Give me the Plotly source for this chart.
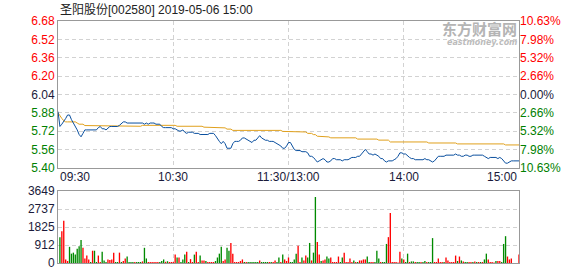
import plotly.graph_objects as go

# ---------------- data ----------------
minutes = list(range(241))  # minute index from 09:30 (0) to 15:00 (240)

price = [
    5.89, 5.76, 5.78, 5.80, 5.83, 5.86, 5.86, 5.82, 5.79, 5.77,
    5.73, 5.69, 5.67, 5.70, 5.73, 5.73, 5.73, 5.73, 5.73, 5.73,
    5.73, 5.75, 5.76, 5.74, 5.74, 5.73, 5.75, 5.76, 5.76, 5.76,
    5.76, 5.76, 5.77, 5.79, 5.80, 5.80, 5.79, 5.79, 5.79, 5.79,
    5.79, 5.79, 5.79, 5.79, 5.79, 5.78, 5.79, 5.78, 5.79, 5.79,
    5.79, 5.78, 5.78, 5.78, 5.76, 5.75, 5.75, 5.75, 5.75, 5.75,
    5.74, 5.74, 5.73, 5.72, 5.72, 5.73, 5.71, 5.70, 5.71, 5.71,
    5.71, 5.70, 5.70, 5.70, 5.69, 5.69, 5.69, 5.69, 5.69, 5.70,
    5.70, 5.70, 5.68, 5.65, 5.63, 5.61, 5.63, 5.61, 5.57, 5.57,
    5.57, 5.61, 5.63, 5.63, 5.63, 5.64, 5.66, 5.66, 5.65, 5.64,
    5.63, 5.62, 5.64, 5.64, 5.66, 5.68, 5.66, 5.65, 5.64, 5.64,
    5.63, 5.63, 5.63, 5.62, 5.61, 5.60, 5.59, 5.57, 5.57, 5.59,
    5.62, 5.62, 5.59, 5.56, 5.55, 5.55, 5.55, 5.54, 5.54, 5.54,
    5.53, 5.50, 5.50, 5.49, 5.47, 5.45, 5.46, 5.47, 5.48, 5.47,
    5.45, 5.45, 5.46, 5.48, 5.48, 5.47, 5.47, 5.47, 5.46, 5.47,
    5.47, 5.47, 5.48, 5.49, 5.49, 5.49, 5.50, 5.50, 5.52, 5.54,
    5.56, 5.54, 5.52, 5.52, 5.51, 5.52, 5.51, 5.50, 5.48, 5.48,
    5.46, 5.45, 5.46, 5.46, 5.46, 5.47, 5.48, 5.50, 5.53, 5.53,
    5.52, 5.52, 5.50, 5.49, 5.48, 5.48, 5.47, 5.47, 5.47, 5.47,
    5.47, 5.48, 5.47, 5.47, 5.46, 5.45, 5.46, 5.48, 5.50, 5.50,
    5.50, 5.50, 5.51, 5.51, 5.51, 5.51, 5.51, 5.52, 5.51, 5.51,
    5.50, 5.50, 5.51, 5.51, 5.50, 5.50, 5.51, 5.51, 5.51, 5.51,
    5.51, 5.51, 5.50, 5.49, 5.48, 5.49, 5.49, 5.49, 5.49, 5.48,
    5.49, 5.48, 5.46, 5.44, 5.44, 5.45, 5.46, 5.46, 5.46, 5.46,
    5.46,
]

avg_price = [
    5.880, 5.850, 5.830, 5.810, 5.800, 5.800, 5.800, 5.800, 5.800, 5.800,
    5.790, 5.780, 5.780, 5.780, 5.768, 5.768, 5.768, 5.768, 5.768, 5.768,
    5.768, 5.768, 5.762, 5.762, 5.762, 5.762, 5.762, 5.762, 5.762, 5.762,
    5.762, 5.762, 5.762, 5.762, 5.762, 5.762, 5.762, 5.762, 5.762, 5.762,
    5.762, 5.762, 5.762, 5.762, 5.770, 5.770, 5.770, 5.770, 5.770, 5.770,
    5.770, 5.770, 5.770, 5.770, 5.770, 5.770, 5.770, 5.770, 5.770, 5.770,
    5.770, 5.770, 5.762, 5.762, 5.762, 5.762, 5.762, 5.762, 5.762, 5.762,
    5.762, 5.762, 5.762, 5.762, 5.762, 5.762, 5.754, 5.754, 5.754, 5.754,
    5.754, 5.754, 5.754, 5.754, 5.748, 5.748, 5.748, 5.748, 5.737, 5.737,
    5.737, 5.726, 5.726, 5.726, 5.726, 5.726, 5.726, 5.726, 5.726, 5.726,
    5.726, 5.726, 5.726, 5.726, 5.726, 5.726, 5.726, 5.726, 5.726, 5.726,
    5.726, 5.726, 5.726, 5.726, 5.726, 5.726, 5.726, 5.717, 5.717, 5.717,
    5.717, 5.717, 5.717, 5.717, 5.712, 5.712, 5.712, 5.712, 5.712, 5.712,
    5.700, 5.700, 5.700, 5.689, 5.689, 5.675, 5.675, 5.669, 5.669, 5.669,
    5.669, 5.669, 5.661, 5.661, 5.661, 5.661, 5.661, 5.661, 5.661, 5.661,
    5.661, 5.661, 5.661, 5.661, 5.661, 5.661, 5.650, 5.650, 5.650, 5.650,
    5.650, 5.650, 5.650, 5.650, 5.650, 5.650, 5.650, 5.641, 5.641, 5.641,
    5.641, 5.641, 5.641, 5.625, 5.625, 5.625, 5.625, 5.625, 5.625, 5.625,
    5.625, 5.625, 5.625, 5.625, 5.625, 5.625, 5.625, 5.625, 5.625, 5.625,
    5.625, 5.625, 5.625, 5.616, 5.616, 5.616, 5.616, 5.616, 5.616, 5.616,
    5.616, 5.616, 5.616, 5.616, 5.616, 5.616, 5.616, 5.616, 5.608, 5.608,
    5.608, 5.608, 5.608, 5.608, 5.608, 5.608, 5.608, 5.608, 5.608, 5.608,
    5.608, 5.608, 5.608, 5.608, 5.608, 5.608, 5.608, 5.608, 5.608, 5.608,
    5.608, 5.608, 5.608, 5.599, 5.599, 5.599, 5.599, 5.599, 5.599, 5.599,
    5.599,
]

volume = [
    0, 1312, 1607, 2148, 180, 100, 820, 475, 525, 426,
    720, 850, 1165, 770, 230, 377, 180, 50, 623, 623,
    50, 377, 50, 574, 130, 50, 180, 148, 180, 525,
    50, 50, 525, 50, 100, 230, 328, 50, 50, 50,
    50, 50, 50, 50, 80, 770, 230, 50, 50, 50,
    50, 50, 50, 50, 100, 180, 60, 90, 50, 50,
    50, 426, 279, 279, 50, 180, 426, 574, 50, 197,
    50, 426, 574, 50, 377, 130, 130, 100, 50, 50,
    50, 50, 100, 279, 475, 820, 100, 180, 770, 623,
    1017, 475, 50, 50, 50, 100, 180, 50, 50, 50,
    50, 50, 50, 50, 50, 130, 50, 50, 50, 50,
    50, 50, 50, 130, 50, 279, 50, 426, 180, 100,
    279, 50, 50, 180, 475, 869, 50, 279, 130, 377,
    279, 1017, 130, 525, 3350, 1066, 426, 100, 130, 180,
    328, 230, 279, 50, 50, 50, 328, 50, 279, 525,
    50, 50, 230, 50, 130, 50, 50, 130, 130, 180,
    180, 328, 50, 50, 50, 50, 623, 230, 50, 50,
    50, 967, 1312, 2542, 50, 50, 50, 30, 574, 230,
    180, 50, 475, 50, 80, 80, 50, 50, 50, 50,
    50, 100, 50, 50, 50, 1263, 50, 50, 230, 50,
    50, 50, 279, 130, 50, 50, 50, 377, 100, 328,
    130, 80, 50, 50, 50, 50, 50, 80, 50, 50,
    50, 50, 180, 475, 180, 50, 50, 30, 100, 100,
    100, 50, 967, 1361, 328, 180, 230, 0, 0, 0,
    426,
]

# u = traded on uptick (red), d = traded on downtick (green)
direction = [
    "u", "d", "u", "u", "u", "u", "d", "d", "d", "d",
    "d", "d", "d", "u", "u", "u", "u", "d", "u", "d",
    "d", "u", "u", "d", "d", "d", "u", "u", "u", "u",
    "d", "d", "u", "d", "u", "u", "d", "d", "d", "d",
    "u", "d", "d", "d", "u", "d", "d", "u", "u", "u",
    "u", "u", "u", "d", "d", "d", "u", "d", "u", "u",
    "u", "u", "d", "u", "d", "d", "d", "u", "d", "u",
    "u", "d", "u", "u", "d", "u", "u", "d", "u", "u",
    "u", "u", "d", "d", "d", "d", "u", "u", "d", "d",
    "u", "u", "u", "u", "u", "u", "u", "d", "u", "d",
    "d", "d", "d", "d", "d", "u", "d", "d", "d", "d",
    "u", "d", "u", "u", "d", "d", "u", "d", "u", "u",
    "u", "d", "d", "d", "d", "u", "u", "d", "u", "u",
    "d", "d", "u", "d", "d", "u", "u", "d", "u", "u",
    "d", "d", "u", "u", "u", "u", "u", "d", "d", "u",
    "u", "u", "u", "u", "d", "u", "d", "u", "u", "u",
    "u", "d", "d", "u", "u", "d", "d", "d", "u", "d",
    "d", "d", "u", "u", "u", "u", "u", "u", "u", "d",
    "u", "d", "d", "u", "d", "d", "u", "d", "d", "u",
    "d", "d", "u", "d", "d", "d", "u", "u", "u", "u",
    "u", "d", "u", "u", "u", "u", "u", "u", "d", "u",
    "d", "u", "d", "d", "u", "u", "d", "u", "d", "u",
    "d", "u", "d", "d", "u", "u", "u", "u", "d", "u",
    "u", "d", "d", "d", "u", "u", "u", "u", "u", "u",
    "u",
]

prev_close = 6.04
price_ticks = [5.40, 5.56, 5.72, 5.88, 6.04, 6.20, 6.36, 6.52, 6.68]
pct_labels = ["10.63%", "7.98%", "5.32%", "2.66%", "0.00%", "2.66%", "5.32%", "7.98%", "10.63%"]
vol_ticks = [0, 912, 1825, 2737, 3649]
time_pos = [0, 60, 120, 180, 240]
time_labels = ["09:30", "10:30", "11:30/13:00", "14:00", "15:00"]
title_text = "圣阳股份[002580] 2019-05-06 15:00"

# ---------------- styling ----------------
RED = "#ff0000"
GREEN = "#008a00"
DARK = "#1a1a3a"
GRID = "#d2d2d2"
BORDER = "#999999"
FONT = "Liberation Sans, Arial, Noto Sans CJK SC, sans-serif"


def tick_color(v):
    if abs(v - prev_close) < 1e-9:
        return DARK
    return RED if v > prev_close else "#008000"


left_text = ["<span style='color:%s'>%.2f</span>" % (tick_color(v), v) for v in price_ticks]
right_text = ["<span style='color:%s'>%s</span>" % (tick_color(v), t) for v, t in zip(price_ticks, pct_labels)]
bar_colors = [RED if d == "u" else GREEN for d in direction]

fig = go.Figure()
fig.add_trace(go.Bar(x=minutes, y=volume,
                     marker=dict(color=bar_colors, line=dict(width=0),
                                 opacity=1),
                     width=0.7, xaxis="x2", yaxis="y2", hoverinfo="skip"))
fig.add_trace(go.Scatter(x=minutes, y=avg_price, mode="lines",
                         line=dict(color="#e0a01c", width=1), xaxis="x", yaxis="y",
                         hoverinfo="skip"))
fig.add_trace(go.Scatter(x=minutes, y=price, mode="lines",
                         line=dict(color="#0a4f9e", width=1), xaxis="x", yaxis="y",
                         hoverinfo="skip"))
# invisible trace to activate right percentage axis
fig.add_trace(go.Scatter(x=[0], y=[prev_close], mode="markers", marker=dict(opacity=0),
                         xaxis="x", yaxis="y3", hoverinfo="skip"))

H_TOP = 21
H_BOT = 270
PH = H_BOT - H_TOP
price_dom = [(H_BOT - 172) / PH, 1.0]
vol_dom = [0.0, (H_BOT - 196) / PH]

axis_common = dict(showline=True, mirror=True, linecolor=BORDER, linewidth=1,
                   zeroline=False, ticks="", fixedrange=True)

fig.update_layout(
    width=578, height=276,
    margin=dict(l=58, r=59, t=H_TOP, b=276 - H_BOT),
    paper_bgcolor="white", plot_bgcolor="white",
    showlegend=False,
    font=dict(family=FONT, size=12, color=DARK),
    xaxis=dict(domain=[0, 1], range=[0, 240], anchor="y",
               tickvals=[60, 120, 180], showticklabels=False,
               showgrid=True, gridcolor=GRID, griddash="4px,3px", gridwidth=1,
               **axis_common),
    yaxis=dict(domain=price_dom, range=[5.40, 6.68], anchor="x",
               tickvals=price_ticks, ticktext=left_text,
               showgrid=True, gridcolor=GRID, griddash="4px,3px", gridwidth=1,
               **axis_common),
    yaxis3=dict(overlaying="y", side="right", range=[5.40, 6.68], anchor="x",
                tickvals=price_ticks, ticktext=right_text, showgrid=False,
                showline=False, zeroline=False, ticks="", fixedrange=True),
    xaxis2=dict(domain=[0, 1], range=[0, 240], anchor="y2",
                tickvals=[60, 120, 180], showticklabels=False,
                showgrid=True, gridcolor=GRID, griddash="4px,3px", gridwidth=1,
                **axis_common),
    yaxis2=dict(domain=vol_dom, range=[0, 3649], anchor="x2",
                tickvals=vol_ticks, ticktext=[str(v) for v in vol_ticks],
                tickfont=dict(color=DARK),
                showgrid=True, gridcolor=GRID, griddash="4px,3px", gridwidth=1,
                **axis_common),
)

annotations = []
time_y = (H_BOT - 182) / PH
for pos, lab in zip(time_pos, time_labels):
    anchor = "left" if pos == 0 else ("right" if pos == 240 else "center")
    annotations.append(dict(x=pos, y=time_y, xref="x", yref="paper", text=lab,
                            showarrow=False, xanchor=anchor, yanchor="middle",
                            font=dict(family=FONT, size=12, color=DARK)))
annotations.append(dict(x=0, y=(H_BOT - 10) / PH, xref="paper", yref="paper",
                        text=title_text, showarrow=False, xanchor="left", yanchor="middle",
                        font=dict(family=FONT, size=12, color="#222222")))
# watermark
annotations.append(dict(x=1.0, y=(H_BOT - 29) / PH, xref="paper", yref="paper",
                        text="<b>东方财富网</b>", showarrow=False, xanchor="right", yanchor="middle",
                        font=dict(family="Noto Sans CJK SC", size=15, color="#b4b4b4")))
annotations.append(dict(x=1.0, y=(H_BOT - 43) / PH, xref="paper", yref="paper",
                        text="<b><i>eastmoney.com</i></b>", showarrow=False, xanchor="right",
                        yanchor="middle",
                        font=dict(family="DejaVu Sans", size=8, color="#bcbcbc")))
fig.update_layout(annotations=annotations)

fig.write_html("out.html", config={"displayModeBar": False, "staticPlot": True})
